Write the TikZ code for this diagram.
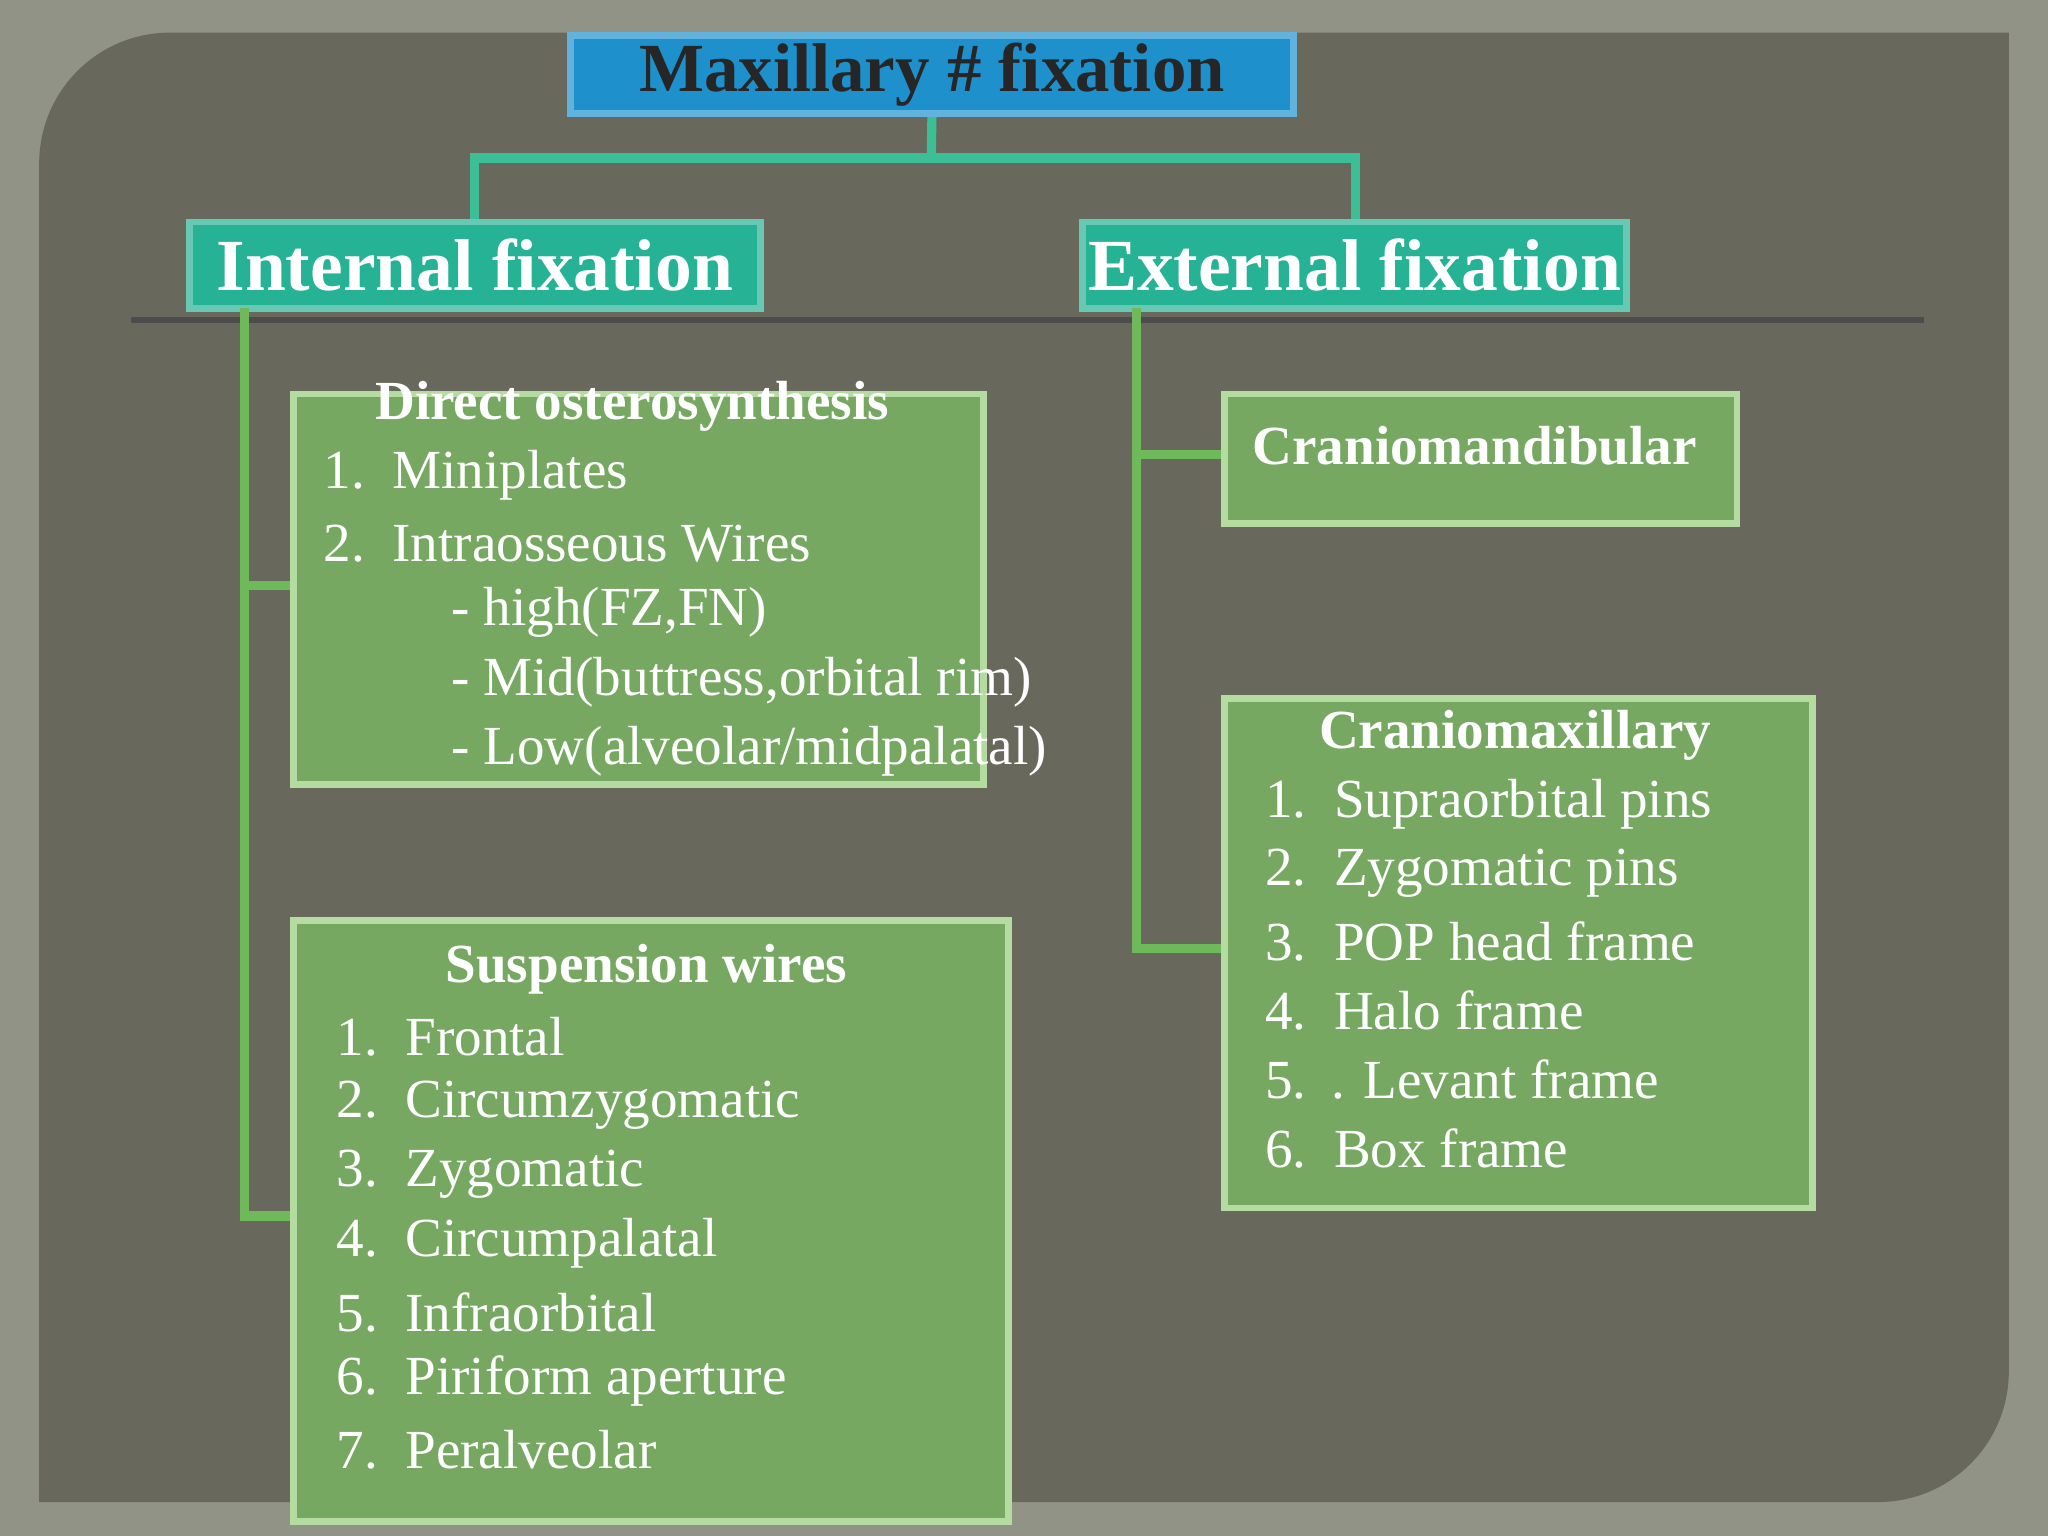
\documentclass[tikz,border=0pt]{standalone}
\usepackage{fontspec}
\setmainfont{Liberation Serif}
\definecolor{outerbg}{RGB}{146,147,135}
\definecolor{panel}{RGB}{104,105,92}
\definecolor{bluebox}{RGB}{30,145,205}
\definecolor{tealbox}{RGB}{38,178,148}
\definecolor{greenbox}{RGB}{118,168,98}
\definecolor{greenedge}{RGB}{150,205,120}
\definecolor{conn}{RGB}{60,190,150}
\definecolor{lconn}{RGB}{110,185,90}
\begin{document}
\begin{tikzpicture}[x=0.01cm,y=-0.01cm,
  bx/.style={draw=#1!70!white,line width=1.5pt,inner sep=0pt},
  item/.style={anchor=west,text=white,font=\fontsize{12}{14}\selectfont,inner sep=0pt},
  head/.style={text=white,font=\bfseries\fontsize{12}{14}\selectfont,inner sep=0pt},
  big/.style={text=white,font=\bfseries\fontsize{16}{18}\selectfont,inner sep=0pt},
  cn/.style={conn,line width=2pt},
  gcn/.style={lconn,line width=2pt}]
\useasboundingbox (0,0) rectangle (1568,1176);
\fill[outerbg] (0,0) rectangle (1568,1176);
\fill[panel] (30,1150) [rounded corners=1cm] -- (30,25) [sharp corners] -- (1538,25) [rounded corners=1cm] -- (1538,1150) [sharp corners] -- cycle;
% boxes
\node[bx=bluebox,fill=bluebox,minimum width=5.53cm,minimum height=0.60cm] (title) at (713.5,57) {};
\node[font=\bfseries\fontsize{15}{17}\selectfont,text=black!85] at (title) {Maxillary \# fixation};
\node[bx=tealbox,fill=tealbox,minimum width=4.37cm,minimum height=0.66cm] (int) at (363.5,203) {};
\node[big] at (int) {Internal fixation};
\node[bx=tealbox,fill=tealbox,minimum width=4.16cm,minimum height=0.66cm] (ext) at (1037,203) {};
\node[big] at (ext) {External fixation};
\draw[black!70,line width=1.5pt] (100,245) -- (1473,245);
% connectors
\coordinate (tj) at (713,121);
\draw[cn] (title.south) -- (tj);
\draw[cn] (int.north -| 363,0) |- (1038,121) -- (ext.north -| 1038,0);
\node[bx=greenedge,fill=greenbox,minimum width=5.28cm,minimum height=2.99cm,anchor=north west] (dir) at (222,299) {};
\node[bx=greenedge,fill=greenbox,minimum width=5.47cm,minimum height=4.60cm,anchor=north west] (sus) at (222,702) {};
\node[bx=greenedge,fill=greenbox,minimum width=3.92cm,minimum height=0.99cm,anchor=north west] (cm) at (935,299) {};
\node[bx=greenedge,fill=greenbox,minimum width=4.50cm,minimum height=3.90cm,anchor=north west] (cx) at (935,532) {};
\coordinate (lt) at (187,236);
\coordinate (rt) at (870,236);
\draw[gcn] (lt) -- (187,931) -- (sus.west |- 0,931);
\draw[gcn] (187,448) -- (dir.west |- 0,448);
\draw[gcn] (rt) -- (870,726) -- (cx.west |- 0,726);
\draw[gcn] (870,348) -- (cm.west |- 0,348);
% texts
\node[head] at (484,311) {Direct osterosynthesis};
\node[item] at (247,364) {1.\enspace Miniplates};
\node[item] at (247,416) {2.\enspace Intraosseous Wires};
\node[item] at (345,469) {- high(FZ,FN)};
\node[item] at (345,522) {- Mid(buttress,orbital rim)};
\node[item] at (345,575) {- Low(alveolar/midpalatal)};
\node[head] at (495,742) {Suspension wires};
\foreach \t [count=\i] in {Frontal,Circumzygomatic,Zygomatic,Circumpalatal,Infraorbital,Piriform aperture,Peralveolar}
  \node[item] at (257,741+52.7*\i) {\i.\enspace\t};
\node[head] at (1129,341) {Craniomandibular};
\node[head] at (1160,563) {Craniomaxillary};
\foreach \t [count=\i] in {Supraorbital pins,Zygomatic pins,POP head frame,Halo frame,{\kern-0.3em\ . Levant frame},Box frame}
  \node[item] at (968,563+52.7*\i) {\i.\enspace\t};
\end{tikzpicture}
\end{document}
